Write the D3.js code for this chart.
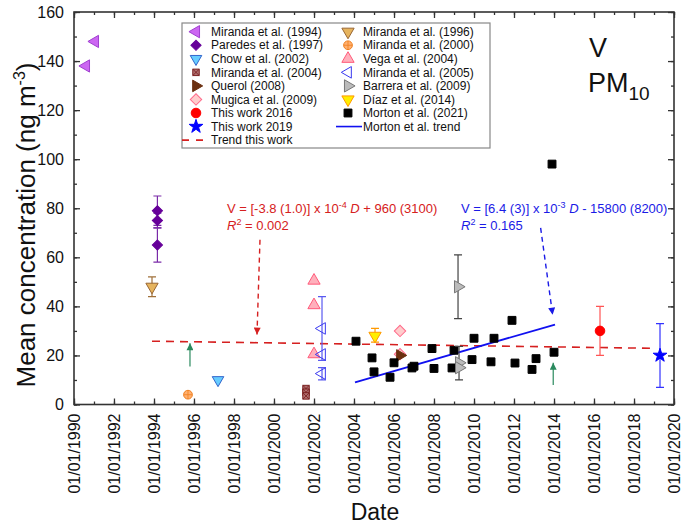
<!DOCTYPE html>
<html>
<head>
<meta charset="utf-8">
<script src="https://cdn.jsdelivr.net/npm/d3@7"></script>
<style>
  body { margin: 0; background: #fff; }
  text { font-family: "Liberation Sans", Arial, sans-serif; }
</style>
</head>
<body>
<div id="chart"></div>
<script>
// data (decimal year, value, [err low, err high])
var mir94 = [[1990.6, 138], [1991.05, 148]];
var paredes97 = [[1994.17, 79, 73, 85], [1994.17, 75, 72, 78], [1994.17, 65, 58, 72]];
var mir96 = [[1993.9, 48, 44, 52]];
var mir00 = [[1995.7, 4]];
var chow02 = [[1997.2, 10]];
var mir04 = [[2001.6, 6.5], [2001.6, 5], [2001.6, 3.5]];
var vega04 = [[2002.0, 50.5], [2002.0, 40.5], [2002.0, 20.5]];
var mir05 = [[2002.4, 31, 18, 44], [2002.4, 20.4], [2002.4, 12.6, 10, 15]];
var mugica09 = [[2006.3, 30], [2006.3, 20.5]];
var querol08 = [[2006.3, 20]];
var barrera09 = [[2009.2, 48, 35, 61], [2009.25, 17, 10, 23.7], [2009.25, 15]];
var diaz14 = [[2005.05, 28, 25.4, 31]];
var thisWork16 = [[2016.3, 30, 20, 40]];
var thisWork19 = [[2019.3, 20, 7, 33]];
var mortonDates = [2004.1, 2004.9, 2005.0, 2005.8, 2006.0, 2006.9, 2007.0, 2007.9, 2008.0, 2008.9, 2009.0,
  2009.9, 2010.0, 2010.85, 2011.0, 2011.9, 2012.05, 2012.9, 2013.1, 2013.9, 2014.0];
var mortonVals = [25.8, 19, 13.3, 11.1, 17, 14.9, 15.6, 22.8, 14.7, 14.9, 22.1,
  18.3, 27, 17.4, 27, 34.3, 16.9, 14.3, 18.7, 98, 21.3];
var trendThisWork = [[1993.9, 25.8], [2019.05, 22.9]];
var mortonTrend = [[2004.05, 9], [2014.05, 32.6]];
var greenArrows = [[1995.8, 15.5, 25], [2013.96, 8, 17]];
var yTicks = [0, 20, 40, 60, 80, 100, 120, 140, 160];

var W = 685, H = 528;
var margin = {top: 12, right: 11, bottom: 123.5, left: 74};
var width = W - margin.left - margin.right, height = H - margin.top - margin.bottom;

//decimal year -> UTC date
function yd(y) {
  var yr = Math.floor(y);
  var a = Date.UTC(yr, 0, 1), b = Date.UTC(yr + 1, 0, 1);
  return new Date(a + (y - yr) * (b - a));
}

var x = d3.scaleUtc().domain([yd(1990), yd(2020)]).range([0, width]);
var y = d3.scaleLinear().domain([0, 160]).range([height, 0]);

var svg = d3.select('#chart').append('svg').attr('width', W).attr('height', H);
var defs = svg.append('defs');
function arrowMarker(id, col, w, h) {
  defs.append('marker').attr('id', id).attr('viewBox', '0 0 10 10')
    .attr('refX', 10).attr('refY', 5).attr('markerWidth', w).attr('markerHeight', h)
    .attr('markerUnits', 'userSpaceOnUse').attr('orient', 'auto')
    .append('path').attr('d', 'M0,0 L10,5 L0,10 Z').attr('fill', col);
}
arrowMarker('arRed', '#d62020', 9, 7);
arrowMarker('arBlue', '#1a1ae6', 9, 7);
arrowMarker('arGreen', '#2a8a5e', 9, 7);

var g = svg.append('g').attr('transform', 'translate(' + margin.left + ',' + margin.top + ')');

// axes (ticks pointing inward on all four sides)
var axisCol = '#333';
var xMajor = d3.utcYear.every(2), xMinor = d3.utcYear.every(1);
var gx = g.append('g').attr('transform', 'translate(0,' + height + ')')
  .call(d3.axisBottom(x).ticks(xMajor).tickFormat(d3.utcFormat('%d/%m/%Y')).tickSizeInner(-6).tickSizeOuter(0).tickPadding(9));
gx.selectAll('text').attr('transform', 'rotate(-90)').attr('x', -9).attr('y', 0)
  .attr('dy', '0.35em').attr('text-anchor', 'end').style('font-size', '16px').attr('fill', '#111');
g.append('g').attr('transform', 'translate(0,' + height + ')')
  .call(d3.axisBottom(x).ticks(xMinor).tickFormat('').tickSizeInner(-3).tickSizeOuter(0));
g.append('g').call(d3.axisTop(x).ticks(xMajor).tickFormat('').tickSizeInner(-6).tickSizeOuter(0));
g.append('g').call(d3.axisTop(x).ticks(xMinor).tickFormat('').tickSizeInner(-3).tickSizeOuter(0));

var gy = g.append('g')
  .call(d3.axisLeft(y).tickValues(yTicks).tickSizeInner(-6).tickSizeOuter(0).tickPadding(10));
gy.selectAll('text').style('font-size', '16px').attr('fill', '#111');
g.append('g').call(d3.axisLeft(y).ticks(16).tickFormat('').tickSizeInner(-3).tickSizeOuter(0));
g.append('g').attr('transform', 'translate(' + width + ',0)')
  .call(d3.axisRight(y).tickValues(yTicks).tickFormat('').tickSizeInner(-6).tickSizeOuter(0));
g.append('g').attr('transform', 'translate(' + width + ',0)')
  .call(d3.axisRight(y).ticks(16).tickFormat('').tickSizeInner(-3).tickSizeOuter(0));
g.selectAll('.domain').remove();
g.selectAll('.tick line').attr('stroke', axisCol).attr('stroke-width', 1.3);
g.append('rect').attr('width', width).attr('height', height)
  .attr('fill', 'none').attr('stroke', axisCol).attr('stroke-width', 1.6);

// axis titles
var yt = svg.append('text').attr('transform', 'translate(35,' + 225 + ') rotate(-90)')
  .attr('text-anchor', 'middle').style('font-size', '26px').attr('fill', '#111');
yt.append('tspan').text('Mean concentration (ng m');
yt.append('tspan').attr('dy', -10).style('font-size', '16px').text('-3');
yt.append('tspan').attr('dy', 10).text(')');
svg.append('text').attr('x', margin.left + width / 2 + 1).attr('y', 520).attr('text-anchor', 'middle')
  .style('font-size', '23px').attr('fill', '#111').text('Date');

// trend lines
var line = d3.line().x(function(d) { return x(yd(d[0])); }).y(function(d) { return y(d[1]); });
g.append('path').datum(trendThisWork).attr('d', line).attr('fill', 'none')
  .attr('stroke', '#d62020').attr('stroke-width', 1.6).attr('stroke-dasharray', '8,6');
g.append('path').datum(mortonTrend).attr('d', line).attr('fill', 'none')
  .attr('stroke', '#1010f0').attr('stroke-width', 1.8);

// marker helpers
function markerPath(kind, s) {
  var t = {triUp: [d3.symbolTriangle, 0], triDown: [d3.symbolTriangle, 180], triLeft: [d3.symbolTriangle, -90],
    triRight: [d3.symbolTriangle, 90], diamond: [d3.symbolSquare, 45], circle: [d3.symbolCircle, 0],
    square: [d3.symbolSquare, 0], star: [d3.symbolStar, 0], boxX: [d3.symbolSquare, 0]}[kind];
  return {d: d3.symbol().type(t[0]).size(s)(), rot: t[1]};
}
function drawMarker(sel, cx, cy, st) {
  var m = markerPath(st.kind, st.size);
  var gg = sel.append('g').attr('transform', 'translate(' + cx + ',' + cy + ')');
  gg.append('path').attr('d', m.d).attr('transform', 'rotate(' + m.rot + ')')
    .attr('fill', st.fill).attr('stroke', st.stroke).attr('stroke-width', st.sw || 1);
  var h = Math.sqrt(st.size) / 2;
  if (st.kind === 'boxX') {
    gg.append('path').attr('d', 'M' + (-h) + ',' + (-h) + 'L' + h + ',' + h + 'M' + h + ',' + (-h) + 'L' + (-h) + ',' + h)
      .attr('stroke', st.stroke).attr('stroke-width', 0.9);
  }
  if (st.cross) {
    var r = h * 1.1;
    gg.append('path').attr('d', 'M' + (-r) + ',0L' + r + ',0M0,' + (-r) + 'L0,' + r)
      .attr('stroke', st.stroke).attr('stroke-width', 0.8);
  }
  return gg;
}
function drawErr(sel, d, col) {
  if (d.length < 4) return;
  var cx = x(yd(d[0])), lo = y(d[2]), hi = y(d[3]);
  sel.append('path').attr('d', 'M' + cx + ',' + lo + 'V' + hi + 'M' + (cx - 4) + ',' + lo + 'H' + (cx + 4) +
    'M' + (cx - 4) + ',' + hi + 'H' + (cx + 4)).attr('stroke', col).attr('stroke-width', 1.2).attr('fill', 'none');
}

var styles = {
  mir94: {kind: 'triLeft', size: 65, fill: '#cc66f2', stroke: '#a040d0'},
  paredes97: {kind: 'diamond', size: 52, fill: '#660099', stroke: '#660099', err: '#7a2aa8'},
  chow02: {kind: 'triDown', size: 58, fill: '#66ccff', stroke: '#3366cc'},
  mir04: {kind: 'boxX', size: 42, fill: '#b07070', stroke: '#7a2020'},
  querol08: {kind: 'triRight', size: 58, fill: '#6b3010', stroke: '#6b3010'},
  mugica09: {kind: 'diamond', size: 65, fill: '#ffcccc', stroke: '#ff6a8a'},
  thisWork16: {kind: 'circle', size: 72, fill: '#ff0000', stroke: '#ff0000', err: '#ff5555'},
  thisWork19: {kind: 'star', size: 58, fill: '#0000ff', stroke: '#0000ff', err: '#3333ff'},
  mir96: {kind: 'triDown', size: 65, fill: '#e6b45e', stroke: '#996633', err: '#a0703a'},
  mir00: {kind: 'circle', size: 60, fill: '#ffb070', stroke: '#f08020', cross: true},
  vega04: {kind: 'triUp', size: 65, fill: '#ffb0bc', stroke: '#ff5a7a'},
  mir05: {kind: 'triLeft', size: 58, fill: 'none', stroke: '#3a3af0', err: '#5a5af0'},
  barrera09: {kind: 'triRight', size: 65, fill: '#bbbbbb', stroke: '#777777', err: '#444444'},
  diaz14: {kind: 'triDown', size: 65, fill: '#ffee00', stroke: '#ff9900', err: '#ff9900'},
  morton: {kind: 'square', size: 62, fill: '#000', stroke: '#000'}
};

var mortonPts = mortonDates.map(function(d, i) { return [d, mortonVals[i]]; });
var series = [
  ['mir94', mir94], ['paredes97', paredes97], ['mir96', mir96], ['mir00', mir00], ['chow02', chow02],
  ['mir04', mir04], ['vega04', vega04], ['mir05', mir05], ['mugica09', mugica09], ['querol08', querol08],
  ['morton', mortonPts], ['barrera09', barrera09], ['diaz14', diaz14], ['thisWork16', thisWork16], ['thisWork19', thisWork19]
];
var marks = g.append('g');
series.forEach(function(s) {
  var st = styles[s[0]];
  s[1].forEach(function(d) { if (st.err) drawErr(marks, d, st.err); });
  s[1].forEach(function(d) { drawMarker(marks, x(yd(d[0])), y(d[1]), st); });
});

// green arrows
greenArrows.forEach(function(a) {
  g.append('line').attr('x1', x(yd(a[0]))).attr('x2', x(yd(a[0]))).attr('y1', y(a[1])).attr('y2', y(a[2]))
    .attr('stroke', '#2a8a5e').attr('stroke-width', 1.2).attr('marker-end', 'url(#arGreen)');
});

// equations with dashed arrows
function eq(xx, yy, col, parts) {
  var t = g.append('text').attr('x', xx).attr('y', yy).attr('fill', col).style('font-size', '13px');
  parts.forEach(function(p) {
    var ts = t.append('tspan').text(p[0]);
    if (p[1] === 'sup') ts.attr('dy', -5).style('font-size', '9px');
    if (p[1] === 'down') ts.attr('dy', 5);
    if (p[1] === 'it') ts.style('font-style', 'italic');
  });
}
eq(x(yd(1997.65)), y(78.2), '#d62020', [['V = [-3.8 (1.0)] x 10'], ['-4', 'sup'], [' ', 'down'], ['D', 'it'], [' + 960 (3100)']]);
eq(x(yd(1997.65)), y(71), '#d62020', [['R', 'it'], ['2', 'sup'], [' = 0.002', 'down']]);
eq(x(yd(2009.35)), y(78.2), '#1a1ae6', [['V = [6.4 (3)] x 10'], ['-3', 'sup'], [' ', 'down'], ['D', 'it'], [' - 15800 (8200)']]);
eq(x(yd(2009.35)), y(71), '#1a1ae6', [['R', 'it'], ['2', 'sup'], [' = 0.165', 'down']]);
g.append('line').attr('x1', x(yd(1999.3))).attr('y1', y(67.2)).attr('x2', x(yd(1999.15))).attr('y2', y(28.5))
  .attr('stroke', '#d62020').attr('stroke-width', 1.4).attr('stroke-dasharray', '5,4').attr('marker-end', 'url(#arRed)');
g.append('line').attr('x1', x(yd(2013.33))).attr('y1', y(72)).attr('x2', x(yd(2013.93))).attr('y2', y(36.6))
  .attr('stroke', '#1a1ae6').attr('stroke-width', 1.4).attr('stroke-dasharray', '5,4').attr('marker-end', 'url(#arBlue)');

// element label top right
svg.append('text').attr('x', 589).attr('y', 57).style('font-size', '27px').attr('fill', '#111').text('V');
var pm = svg.append('text').attr('x', 588).attr('y', 92).style('font-size', '27px').attr('fill', '#111');
pm.append('tspan').text('PM');
pm.append('tspan').attr('dy', 8).style('font-size', '19px').text('10');

// legend
var legend = svg.append('g');
legend.append('rect').attr('x', 182).attr('y', 23).attr('width', 308).attr('height', 125)
  .attr('fill', '#fff').attr('stroke', '#888').attr('stroke-width', 1.2);
var col1 = [['mir94', 'Miranda et al. (1994)'], ['paredes97', 'Paredes et al. (1997)'], ['chow02', 'Chow et al. (2002)'],
  ['mir04', 'Miranda et al. (2004)'], ['querol08', 'Querol (2008)'], ['mugica09', 'Mugica et al. (2009)'],
  ['thisWork16', 'This work 2016'], ['thisWork19', 'This work 2019'], ['trendRed', 'Trend this work']];
var col2 = [['mir96', 'Miranda et al. (1996)'], ['mir00', 'Miranda et al. (2000)'], ['vega04', 'Vega et al. (2004)'],
  ['mir05', 'Miranda et al. (2005)'], ['barrera09', 'Barrera et al. (2009)'], ['diaz14', 'Díaz et al. (2014)'],
  ['morton', 'Morton et al. (2021)'], ['trendBlue', 'Morton et al. trend']];
function legendCol(items, sx, tx) {
  items.forEach(function(it, i) {
    var cy = 31.7 + i * 13.55;
    if (it[0] === 'trendRed') {
      legend.append('line').attr('x1', 182).attr('x2', 204).attr('y1', cy).attr('y2', cy)
        .attr('stroke', '#d62020').attr('stroke-width', 1.6).attr('stroke-dasharray', '7,7');
    } else if (it[0] === 'trendBlue') {
      legend.append('line').attr('x1', 336).attr('x2', 362).attr('y1', cy).attr('y2', cy)
        .attr('stroke', '#1010f0').attr('stroke-width', 1.6);
    } else {
      drawMarker(legend, sx, cy, styles[it[0]]);
    }
    legend.append('text').attr('x', tx).attr('y', cy).attr('dy', '0.35em').style('font-size', '12px')
      .attr('fill', '#111').text(it[1]);
  });
}
legendCol(col1, 196, 211);
legendCol(col2, 348, 363);
</script>
</body>
</html>
